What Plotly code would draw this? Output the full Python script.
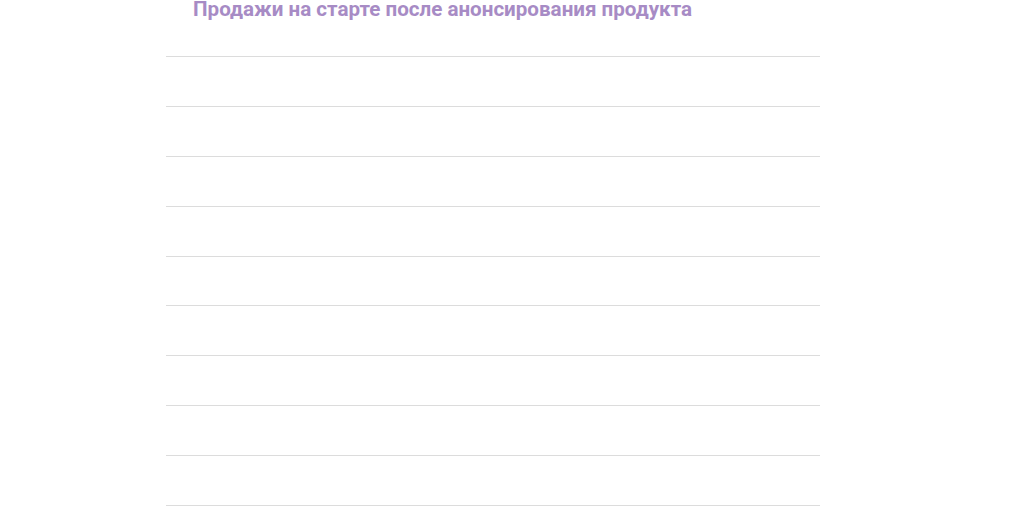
import plotly.graph_objects as go

# the chart in the reference is empty: only the grid and the title are drawn
categories = []
sales = []
y_ticks = [0, 1, 2, 3, 4, 5, 6, 7, 8, 9]

fig = go.Figure()
fig.add_trace(
    go.Bar(
        x=categories,
        y=sales,
        marker_color='#a78bc5',
    )
)

fig.update_layout(
    width=1024,
    height=512,
    paper_bgcolor='#ffffff',
    plot_bgcolor='#ffffff',
    margin=dict(l=166, r=204, t=52, b=2),
    showlegend=False,
    title=dict(
        text='<b>Продажи на старте после анонсирования продукта</b>',
        x=193 / 1024,
        xanchor='left',
        y=1 - 9 / 512,
        yanchor='middle',
        font=dict(family='Roboto', size=20.6, color='#a78bc5'),
    ),
    font=dict(family='Roboto'),
)
fig.update_xaxes(visible=False)
fig.update_yaxes(
    range=[-0.1, 9.1],
    tickvals=y_ticks,
    showticklabels=False,
    showgrid=True,
    gridcolor='#dcdcdc',
    gridwidth=1,
    zeroline=False,
    showline=False,
    ticks='',
)

fig.write_html(
    "out.html",
    config={'displayModeBar': False},
    post_script="document.body.style.margin='0';",
)
